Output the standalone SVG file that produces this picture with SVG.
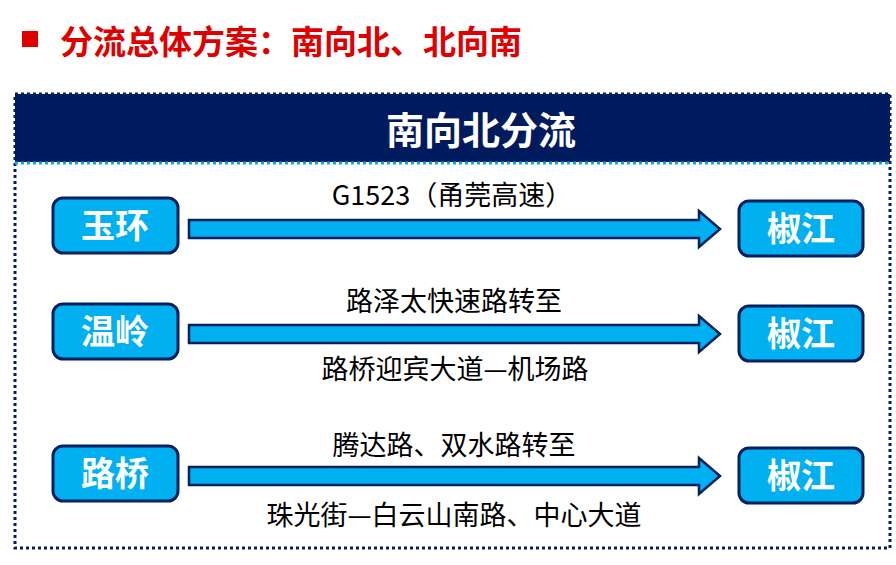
<svg xmlns="http://www.w3.org/2000/svg" width="896" height="565" viewBox="0 0 896 565">
<defs>
<style>
.n rect{fill:#00B0F0;stroke:#002060;stroke-width:3}
.n text{fill:#fff;font:bold 34px "Noto Sans CJK SC",sans-serif;text-anchor:middle}
.a{fill:#00B0F0;stroke:#002060;stroke-width:2.5;stroke-linejoin:miter}
.l{fill:#000;font:27px "Noto Sans CJK SC",sans-serif;text-anchor:middle}
</style>
<path id="arr" d="M189,-9 H699 V-18 L720,0 L699,18 V9 H189 Z"/>
</defs>
<rect width="896" height="565" fill="#fff"/>
<rect x="22" y="31" width="16" height="16" fill="#E00000"/>
<text x="60" y="54" fill="#E00000" font-family="Noto Sans CJK SC,sans-serif" font-weight="bold" font-size="33">分流总体方案：南向北、北向南</text>
<rect x="15" y="94" width="875" height="454" fill="none" stroke="#002060" stroke-width="3" stroke-dasharray="3,3"/>
<rect x="15" y="94" width="875" height="68" fill="#001A5E"/>
<line x1="15" y1="163" x2="890" y2="163" stroke="#00B0F0" stroke-width="3" stroke-dasharray="3,3"/>
<text x="481" y="144" fill="#fff" text-anchor="middle" font-family="Noto Sans CJK SC,sans-serif" font-weight="bold" font-size="38">南向北分流</text>
<g id="connectors">
<use href="#arr" class="a" y="229"/>
<use href="#arr" class="a" y="334"/>
<use href="#arr" class="a" y="476"/>
</g>
<g id="labels">
<text class="l" x="452" y="205">G1523（甬莞高速）</text>
<text class="l" x="454" y="311">路泽太快速路转至</text>
<text class="l" x="455" y="379">路桥迎宾大道—机场路</text>
<text class="l" x="454" y="455">腾达路、双水路转至</text>
<text class="l" x="454" y="525">珠光街—白云山南路、中心大道</text>
</g>
<g id="n1" class="n"><rect x="53" y="198" width="125" height="55" rx="10"/><text x="115" y="238">玉环</text></g>
<g id="n2" class="n"><rect x="53" y="304" width="125" height="55" rx="10"/><text x="115" y="344">温岭</text></g>
<g id="n3" class="n"><rect x="53" y="446" width="125" height="55" rx="10"/><text x="115" y="486">路桥</text></g>
<g id="n4" class="n"><rect x="739" y="201" width="124" height="55" rx="10"/><text x="801" y="241">椒江</text></g>
<g id="n5" class="n"><rect x="739" y="306" width="124" height="55" rx="10"/><text x="801" y="346">椒江</text></g>
<g id="n6" class="n"><rect x="739" y="448" width="124" height="55" rx="10"/><text x="801" y="488">椒江</text></g>
</svg>
